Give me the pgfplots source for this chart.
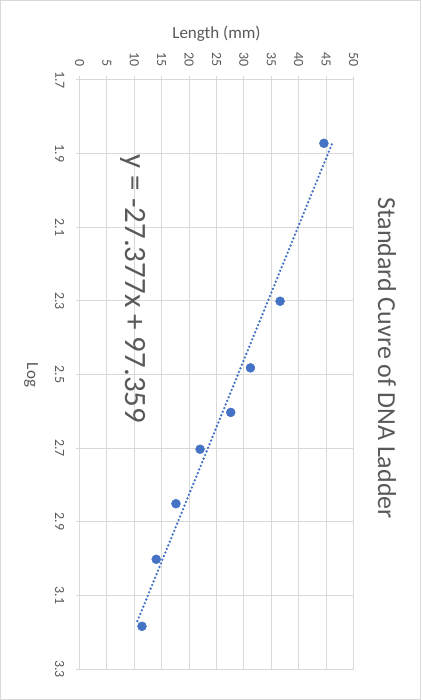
\documentclass[border=0pt]{standalone}
\usepackage{pgfplots}
\pgfplotsset{compat=1.18}
\usepackage{fontspec}
\setmainfont{Carlito}
\definecolor{gridgray}{HTML}{D9D9D9}
\definecolor{txtgray}{HTML}{595959}
\definecolor{ptblue}{HTML}{4472C4}
\begin{document}
\begin{tikzpicture}
\useasboundingbox (0pt,0pt) rectangle (421pt,700pt);
\draw[gridgray,line width=1pt] (0.5pt,0.5pt) rectangle (420.5pt,699.5pt);
\begin{axis}[
  at={(216.5pt,325.5pt)}, anchor=center,
  scale only axis, width=274pt, height=589pt,
  xmin=0, xmax=50, ymin=1.7, ymax=3.3, y dir=reverse,
  xtick={0,5,...,50}, ytick={1.7,1.9,2.1,2.3,2.5,2.7,2.9,3.1,3.3},
  xticklabel pos=upper,
  grid=major, major grid style={gridgray, line width=1pt},
  axis line style={gridgray, line width=1pt},
  tick style={gridgray, line width=1pt},
  tick align=outside, major tick length=4pt,
  xtick pos=upper, ytick pos=lower,
  /pgf/number format/assume math mode=true,
  yticklabel={\pgfmathprintnumber[fixed,fixed zerofill,precision=1]{\tick}},
  xticklabel style={yshift=9pt, rotate=-90, anchor=east, inner sep=0pt, text=txtgray, font=\fontsize{14}{14}\selectfont},
  yticklabel style={xshift=-11pt, rotate=-90, anchor=north, inner sep=0pt, text=txtgray, font=\fontsize{14}{14}\selectfont},
]
\addplot[no marks, ptblue, line width=2.6pt, line cap=round, dash pattern=on 0pt off 3.9pt] coordinates {(46.03,1.875) (10.40,3.176)};
\addplot[only marks, mark=*, mark size=4.5pt, ptblue, mark options={fill=ptblue, draw=ptblue}] coordinates {
(44.6,1.872) (36.6,2.301) (31.2,2.482) (27.6,2.603) (22.0,2.703) (17.6,2.851) (14.0,3.002) (11.4,3.184)};
\end{axis}
\node[text=txtgray, font=\fontsize{17}{17}\selectfont, inner sep=0pt] at (216.5pt,666pt) {Length (mm)};
\node[text=txtgray, font=\fontsize{17}{17}\selectfont, inner sep=0pt, rotate=-90] at (31pt,325pt) {Log};
\node[text=txtgray, font=\fontsize{26}{26}\selectfont, inner sep=0pt, rotate=-90] at (387pt,342pt) {Standard Cuvre of DNA Ladder};
\node[text=txtgray, font=\fontsize{31}{31}\selectfont, inner sep=0pt, rotate=-90] at (133pt,411pt) {y = -27.377x + 97.359};
\end{tikzpicture}
\end{document}
